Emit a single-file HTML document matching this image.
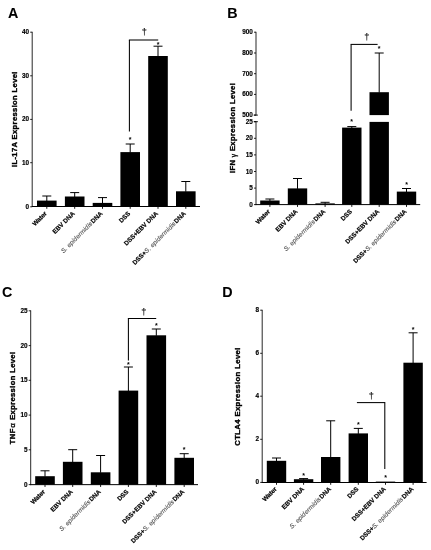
<!DOCTYPE html>
<html><head><meta charset="utf-8"><title>Figure</title>
<style>
html,body{margin:0;padding:0;background:#fff;}
svg{display:block;filter:blur(0.35px);}
text{font-family:'Liberation Sans', sans-serif;}
.it{font-style:italic;font-weight:normal;fill:#555;stroke:#555;stroke-width:0.12px;letter-spacing:0.08px;}
</style></head>
<body>
<svg width="431" height="550" viewBox="0 0 431 550">
<rect x="0" y="0" width="431" height="550" fill="#fff"/>
<g>
<line x1="32.20" y1="31.80" x2="32.20" y2="207.00" stroke="#000" stroke-width="0.85"/>
<text x="7.90" y="17.90" font-size="14.3" font-weight="bold" text-anchor="start" fill="#000" stroke="#000" stroke-width="0.05">A</text>
<line x1="30.20" y1="206.80" x2="32.20" y2="206.80" stroke="#000" stroke-width="0.85"/>
<text x="29.00" y="208.80" font-size="6.4" font-weight="bold" text-anchor="end" fill="#000" stroke="#000" stroke-width="0.15">0</text>
<line x1="30.20" y1="162.70" x2="32.20" y2="162.70" stroke="#000" stroke-width="0.85"/>
<text x="29.00" y="164.70" font-size="6.4" font-weight="bold" text-anchor="end" fill="#000" stroke="#000" stroke-width="0.15">10</text>
<line x1="30.20" y1="119.40" x2="32.20" y2="119.40" stroke="#000" stroke-width="0.85"/>
<text x="29.00" y="121.40" font-size="6.4" font-weight="bold" text-anchor="end" fill="#000" stroke="#000" stroke-width="0.15">20</text>
<line x1="30.20" y1="75.80" x2="32.20" y2="75.80" stroke="#000" stroke-width="0.85"/>
<text x="29.00" y="77.80" font-size="6.4" font-weight="bold" text-anchor="end" fill="#000" stroke="#000" stroke-width="0.15">30</text>
<line x1="30.20" y1="32.20" x2="32.20" y2="32.20" stroke="#000" stroke-width="0.85"/>
<text x="29.00" y="34.20" font-size="6.4" font-weight="bold" text-anchor="end" fill="#000" stroke="#000" stroke-width="0.15">40</text>
<line x1="31.80" y1="206.50" x2="200.00" y2="206.50" stroke="#000" stroke-width="1.0"/>
<rect x="37.00" y="200.60" width="19.60" height="5.90" fill="#000"/>
<line x1="46.80" y1="196.00" x2="46.80" y2="201.10" stroke="#000" stroke-width="1.0"/>
<line x1="42.30" y1="196.00" x2="51.30" y2="196.00" stroke="#000" stroke-width="1.0"/>
<line x1="46.80" y1="206.50" x2="46.80" y2="208.80" stroke="#000" stroke-width="0.9"/>
<text x="47.30" y="214.00" font-size="6.35" font-weight="bold" text-anchor="end" fill="#000" transform="rotate(-45 47.30 214.00)" stroke="#000" stroke-width="0.2">Water</text>
<rect x="64.90" y="196.50" width="19.60" height="10.00" fill="#000"/>
<line x1="74.70" y1="192.60" x2="74.70" y2="197.00" stroke="#000" stroke-width="1.0"/>
<line x1="70.20" y1="192.60" x2="79.20" y2="192.60" stroke="#000" stroke-width="1.0"/>
<line x1="74.70" y1="206.50" x2="74.70" y2="208.80" stroke="#000" stroke-width="0.9"/>
<text x="75.20" y="214.00" font-size="6.35" font-weight="bold" text-anchor="end" fill="#000" transform="rotate(-45 75.20 214.00)" stroke="#000" stroke-width="0.2">EBV DNA</text>
<rect x="92.70" y="202.90" width="19.60" height="3.60" fill="#000"/>
<line x1="102.50" y1="197.60" x2="102.50" y2="203.40" stroke="#000" stroke-width="1.0"/>
<line x1="98.00" y1="197.60" x2="107.00" y2="197.60" stroke="#000" stroke-width="1.0"/>
<line x1="102.50" y1="206.50" x2="102.50" y2="208.80" stroke="#000" stroke-width="0.9"/>
<text x="103.00" y="214.00" font-size="6.35" font-weight="bold" text-anchor="end" fill="#000" transform="rotate(-45 103.00 214.00)" stroke="#000" stroke-width="0.2"><tspan class="it">S. epidermidis</tspan><tspan dx="0.7">DNA</tspan></text>
<rect x="120.40" y="152.10" width="19.60" height="54.40" fill="#000"/>
<line x1="130.20" y1="144.00" x2="130.20" y2="152.60" stroke="#000" stroke-width="1.0"/>
<line x1="125.70" y1="144.00" x2="134.70" y2="144.00" stroke="#000" stroke-width="1.0"/>
<line x1="130.20" y1="206.50" x2="130.20" y2="208.80" stroke="#000" stroke-width="0.9"/>
<text x="130.70" y="214.00" font-size="6.35" font-weight="bold" text-anchor="end" fill="#000" transform="rotate(-45 130.70 214.00)" stroke="#000" stroke-width="0.2">DSS</text>
<rect x="148.20" y="56.00" width="19.60" height="150.50" fill="#000"/>
<line x1="158.00" y1="46.20" x2="158.00" y2="56.50" stroke="#000" stroke-width="1.0"/>
<line x1="153.50" y1="46.20" x2="162.50" y2="46.20" stroke="#000" stroke-width="1.0"/>
<line x1="158.00" y1="206.50" x2="158.00" y2="208.80" stroke="#000" stroke-width="0.9"/>
<text x="158.50" y="214.00" font-size="6.35" font-weight="bold" text-anchor="end" fill="#000" transform="rotate(-45 158.50 214.00)" stroke="#000" stroke-width="0.2">DSS+EBV DNA</text>
<rect x="176.00" y="191.30" width="19.60" height="15.20" fill="#000"/>
<line x1="185.80" y1="181.50" x2="185.80" y2="191.80" stroke="#000" stroke-width="1.0"/>
<line x1="181.30" y1="181.50" x2="190.30" y2="181.50" stroke="#000" stroke-width="1.0"/>
<line x1="185.80" y1="206.50" x2="185.80" y2="208.80" stroke="#000" stroke-width="0.9"/>
<text x="186.30" y="214.00" font-size="6.35" font-weight="bold" text-anchor="end" fill="#000" transform="rotate(-45 186.30 214.00)" stroke="#000" stroke-width="0.2">DSS+<tspan class="it">S. epidermidis</tspan><tspan dx="0.7">DNA</tspan></text>
<text x="17.20" y="119.10" font-size="7.6" font-weight="bold" text-anchor="middle" fill="#000" transform="rotate(-90 17.20 119.10)" letter-spacing="0.36" stroke="#000" stroke-width="0.35">IL-17A Expression Level</text>
<text x="130.00" y="141.70" font-size="7" font-weight="bold" text-anchor="middle" fill="#000">*</text>
<text x="158.00" y="47.20" font-size="7" font-weight="bold" text-anchor="middle" fill="#000">*</text>
<line x1="128.90" y1="40.00" x2="158.20" y2="40.00" stroke="#000" stroke-width="1.05"/>
<line x1="129.40" y1="40.00" x2="129.40" y2="131.60" stroke="#000" stroke-width="1.05"/>
<text x="144.40" y="35.40" font-size="9.2" font-weight="normal" text-anchor="middle" fill="#000" stroke="#000" stroke-width="0.1">†</text>
</g>
<g>
<line x1="256.00" y1="121.30" x2="256.00" y2="205.10" stroke="#000" stroke-width="0.85"/>
<line x1="256.00" y1="31.80" x2="256.00" y2="115.50" stroke="#000" stroke-width="0.85"/>
<text x="227.30" y="17.90" font-size="14.3" font-weight="bold" text-anchor="start" fill="#000" stroke="#000" stroke-width="0.05">B</text>
<line x1="254.00" y1="204.60" x2="256.00" y2="204.60" stroke="#000" stroke-width="0.85"/>
<text x="252.90" y="206.60" font-size="6.4" font-weight="bold" text-anchor="end" fill="#000" stroke="#000" stroke-width="0.15">0</text>
<line x1="254.00" y1="188.10" x2="256.00" y2="188.10" stroke="#000" stroke-width="0.85"/>
<text x="252.90" y="190.10" font-size="6.4" font-weight="bold" text-anchor="end" fill="#000" stroke="#000" stroke-width="0.15">5</text>
<line x1="254.00" y1="171.50" x2="256.00" y2="171.50" stroke="#000" stroke-width="0.85"/>
<text x="252.90" y="173.50" font-size="6.4" font-weight="bold" text-anchor="end" fill="#000" stroke="#000" stroke-width="0.15">10</text>
<line x1="254.00" y1="154.90" x2="256.00" y2="154.90" stroke="#000" stroke-width="0.85"/>
<text x="252.90" y="156.90" font-size="6.4" font-weight="bold" text-anchor="end" fill="#000" stroke="#000" stroke-width="0.15">15</text>
<line x1="254.00" y1="138.30" x2="256.00" y2="138.30" stroke="#000" stroke-width="0.85"/>
<text x="252.90" y="140.30" font-size="6.4" font-weight="bold" text-anchor="end" fill="#000" stroke="#000" stroke-width="0.15">20</text>
<line x1="254.00" y1="121.70" x2="256.00" y2="121.70" stroke="#000" stroke-width="0.85"/>
<text x="252.90" y="123.70" font-size="6.4" font-weight="bold" text-anchor="end" fill="#000" stroke="#000" stroke-width="0.15">25</text>
<line x1="254.00" y1="115.10" x2="256.00" y2="115.10" stroke="#000" stroke-width="0.85"/>
<text x="252.90" y="117.10" font-size="6.4" font-weight="bold" text-anchor="end" fill="#000" stroke="#000" stroke-width="0.15">500</text>
<line x1="254.00" y1="94.40" x2="256.00" y2="94.40" stroke="#000" stroke-width="0.85"/>
<text x="252.90" y="96.40" font-size="6.4" font-weight="bold" text-anchor="end" fill="#000" stroke="#000" stroke-width="0.15">600</text>
<line x1="254.00" y1="73.70" x2="256.00" y2="73.70" stroke="#000" stroke-width="0.85"/>
<text x="252.90" y="75.70" font-size="6.4" font-weight="bold" text-anchor="end" fill="#000" stroke="#000" stroke-width="0.15">700</text>
<line x1="254.00" y1="53.00" x2="256.00" y2="53.00" stroke="#000" stroke-width="0.85"/>
<text x="252.90" y="55.00" font-size="6.4" font-weight="bold" text-anchor="end" fill="#000" stroke="#000" stroke-width="0.15">800</text>
<line x1="254.00" y1="32.20" x2="256.00" y2="32.20" stroke="#000" stroke-width="0.85"/>
<text x="252.90" y="34.20" font-size="6.4" font-weight="bold" text-anchor="end" fill="#000" stroke="#000" stroke-width="0.15">900</text>
<line x1="255.60" y1="204.60" x2="420.20" y2="204.60" stroke="#000" stroke-width="1.0"/>
<rect x="260.20" y="200.50" width="19.40" height="4.10" fill="#000"/>
<line x1="269.90" y1="199.00" x2="269.90" y2="201.00" stroke="#000" stroke-width="1.0"/>
<line x1="265.40" y1="199.00" x2="274.40" y2="199.00" stroke="#000" stroke-width="1.0"/>
<line x1="269.90" y1="204.60" x2="269.90" y2="206.90" stroke="#000" stroke-width="0.9"/>
<text x="270.50" y="212.10" font-size="6.35" font-weight="bold" text-anchor="end" fill="#000" transform="rotate(-45 270.50 212.10)" stroke="#000" stroke-width="0.2">Water</text>
<rect x="287.80" y="188.40" width="19.40" height="16.20" fill="#000"/>
<line x1="297.50" y1="178.50" x2="297.50" y2="188.90" stroke="#000" stroke-width="1.0"/>
<line x1="293.00" y1="178.50" x2="302.00" y2="178.50" stroke="#000" stroke-width="1.0"/>
<line x1="297.50" y1="204.60" x2="297.50" y2="206.90" stroke="#000" stroke-width="0.9"/>
<text x="298.10" y="212.10" font-size="6.35" font-weight="bold" text-anchor="end" fill="#000" transform="rotate(-45 298.10 212.10)" stroke="#000" stroke-width="0.2">EBV DNA</text>
<rect x="315.40" y="203.40" width="19.40" height="1.20" fill="#000"/>
<line x1="325.10" y1="202.30" x2="325.10" y2="203.90" stroke="#000" stroke-width="1.0"/>
<line x1="320.60" y1="202.30" x2="329.60" y2="202.30" stroke="#000" stroke-width="1.0"/>
<line x1="325.10" y1="204.60" x2="325.10" y2="206.90" stroke="#000" stroke-width="0.9"/>
<text x="325.70" y="212.10" font-size="6.35" font-weight="bold" text-anchor="end" fill="#000" transform="rotate(-45 325.70 212.10)" stroke="#000" stroke-width="0.2"><tspan class="it">S. epidermidis</tspan><tspan dx="0.7">DNA</tspan></text>
<rect x="342.10" y="127.60" width="19.40" height="77.00" fill="#000"/>
<line x1="351.80" y1="126.60" x2="351.80" y2="128.10" stroke="#000" stroke-width="1.0"/>
<line x1="347.30" y1="126.60" x2="356.30" y2="126.60" stroke="#000" stroke-width="1.0"/>
<line x1="351.80" y1="204.60" x2="351.80" y2="206.90" stroke="#000" stroke-width="0.9"/>
<text x="352.40" y="212.10" font-size="6.35" font-weight="bold" text-anchor="end" fill="#000" transform="rotate(-45 352.40 212.10)" stroke="#000" stroke-width="0.2">DSS</text>
<rect x="369.50" y="121.90" width="19.40" height="82.70" fill="#000"/>
<line x1="379.20" y1="204.60" x2="379.20" y2="206.90" stroke="#000" stroke-width="0.9"/>
<text x="379.80" y="212.10" font-size="6.35" font-weight="bold" text-anchor="end" fill="#000" transform="rotate(-45 379.80 212.10)" stroke="#000" stroke-width="0.2">DSS+EBV DNA</text>
<rect x="396.80" y="191.60" width="19.40" height="13.00" fill="#000"/>
<line x1="406.50" y1="188.50" x2="406.50" y2="192.10" stroke="#000" stroke-width="1.0"/>
<line x1="402.00" y1="188.50" x2="411.00" y2="188.50" stroke="#000" stroke-width="1.0"/>
<line x1="406.50" y1="204.60" x2="406.50" y2="206.90" stroke="#000" stroke-width="0.9"/>
<text x="407.10" y="212.10" font-size="6.35" font-weight="bold" text-anchor="end" fill="#000" transform="rotate(-45 407.10 212.10)" stroke="#000" stroke-width="0.2">DSS+<tspan class="it">S. epidermidis</tspan><tspan dx="0.7">DNA</tspan></text>
<text x="235.10" y="127.90" font-size="7.6" font-weight="bold" text-anchor="middle" fill="#000" transform="rotate(-90 235.10 127.90)" letter-spacing="0.36" stroke="#000" stroke-width="0.35">IFN <tspan font-size="6.6" font-weight="normal" dy="0.8">γ</tspan><tspan dy="-0.8"> Expression Level</tspan></text>
<text x="351.70" y="124.30" font-size="7" font-weight="bold" text-anchor="middle" fill="#000">*</text>
<text x="379.20" y="51.40" font-size="7" font-weight="bold" text-anchor="middle" fill="#000">*</text>
<text x="406.50" y="187.00" font-size="7" font-weight="bold" text-anchor="middle" fill="#000">*</text>
<line x1="350.60" y1="44.40" x2="377.60" y2="44.40" stroke="#000" stroke-width="1.05"/>
<line x1="351.10" y1="44.40" x2="351.10" y2="110.80" stroke="#000" stroke-width="1.05"/>
<text x="366.70" y="39.70" font-size="9.2" font-weight="normal" text-anchor="middle" fill="#000" stroke="#000" stroke-width="0.1">†</text>
<line x1="253.70" y1="115.10" x2="257.90" y2="115.10" stroke="#000" stroke-width="0.9"/>
<line x1="253.70" y1="121.70" x2="257.90" y2="121.70" stroke="#000" stroke-width="0.9"/>
<rect x="369.50" y="92.20" width="19.40" height="22.90" fill="#000"/>
<line x1="379.20" y1="53.00" x2="379.20" y2="92.70" stroke="#000" stroke-width="1.0"/>
<line x1="374.70" y1="53.00" x2="383.70" y2="53.00" stroke="#000" stroke-width="1.0"/>
</g>
<g>
<line x1="30.70" y1="310.40" x2="30.70" y2="485.15" stroke="#000" stroke-width="0.85"/>
<text x="2.00" y="297.10" font-size="14.3" font-weight="bold" text-anchor="start" fill="#000" stroke="#000" stroke-width="0.05">C</text>
<line x1="28.70" y1="484.60" x2="30.70" y2="484.60" stroke="#000" stroke-width="0.85"/>
<text x="27.60" y="486.60" font-size="6.4" font-weight="bold" text-anchor="end" fill="#000" stroke="#000" stroke-width="0.15">0</text>
<line x1="28.70" y1="449.80" x2="30.70" y2="449.80" stroke="#000" stroke-width="0.85"/>
<text x="27.60" y="451.80" font-size="6.4" font-weight="bold" text-anchor="end" fill="#000" stroke="#000" stroke-width="0.15">5</text>
<line x1="28.70" y1="415.10" x2="30.70" y2="415.10" stroke="#000" stroke-width="0.85"/>
<text x="27.60" y="417.10" font-size="6.4" font-weight="bold" text-anchor="end" fill="#000" stroke="#000" stroke-width="0.15">10</text>
<line x1="28.70" y1="380.30" x2="30.70" y2="380.30" stroke="#000" stroke-width="0.85"/>
<text x="27.60" y="382.30" font-size="6.4" font-weight="bold" text-anchor="end" fill="#000" stroke="#000" stroke-width="0.15">15</text>
<line x1="28.70" y1="345.60" x2="30.70" y2="345.60" stroke="#000" stroke-width="0.85"/>
<text x="27.60" y="347.60" font-size="6.4" font-weight="bold" text-anchor="end" fill="#000" stroke="#000" stroke-width="0.15">20</text>
<line x1="28.70" y1="310.80" x2="30.70" y2="310.80" stroke="#000" stroke-width="0.85"/>
<text x="27.60" y="312.80" font-size="6.4" font-weight="bold" text-anchor="end" fill="#000" stroke="#000" stroke-width="0.15">25</text>
<line x1="30.30" y1="484.65" x2="198.00" y2="484.65" stroke="#000" stroke-width="1.0"/>
<rect x="35.20" y="476.20" width="19.60" height="8.45" fill="#000"/>
<line x1="45.00" y1="470.80" x2="45.00" y2="476.70" stroke="#000" stroke-width="1.0"/>
<line x1="40.50" y1="470.80" x2="49.50" y2="470.80" stroke="#000" stroke-width="1.0"/>
<line x1="45.00" y1="484.65" x2="45.00" y2="486.95" stroke="#000" stroke-width="0.9"/>
<text x="45.60" y="492.15" font-size="6.35" font-weight="bold" text-anchor="end" fill="#000" transform="rotate(-45 45.60 492.15)" stroke="#000" stroke-width="0.2">Water</text>
<rect x="62.90" y="461.80" width="19.60" height="22.85" fill="#000"/>
<line x1="72.70" y1="449.70" x2="72.70" y2="462.30" stroke="#000" stroke-width="1.0"/>
<line x1="68.20" y1="449.70" x2="77.20" y2="449.70" stroke="#000" stroke-width="1.0"/>
<line x1="72.70" y1="484.65" x2="72.70" y2="486.95" stroke="#000" stroke-width="0.9"/>
<text x="73.30" y="492.15" font-size="6.35" font-weight="bold" text-anchor="end" fill="#000" transform="rotate(-45 73.30 492.15)" stroke="#000" stroke-width="0.2">EBV DNA</text>
<rect x="90.80" y="472.30" width="19.60" height="12.35" fill="#000"/>
<line x1="100.60" y1="455.50" x2="100.60" y2="472.80" stroke="#000" stroke-width="1.0"/>
<line x1="96.10" y1="455.50" x2="105.10" y2="455.50" stroke="#000" stroke-width="1.0"/>
<line x1="100.60" y1="484.65" x2="100.60" y2="486.95" stroke="#000" stroke-width="0.9"/>
<text x="101.20" y="492.15" font-size="6.35" font-weight="bold" text-anchor="end" fill="#000" transform="rotate(-45 101.20 492.15)" stroke="#000" stroke-width="0.2"><tspan class="it">S. epidermidis</tspan><tspan dx="0.7">DNA</tspan></text>
<rect x="118.60" y="390.60" width="19.60" height="94.05" fill="#000"/>
<line x1="128.40" y1="367.00" x2="128.40" y2="391.10" stroke="#000" stroke-width="1.0"/>
<line x1="123.90" y1="367.00" x2="132.90" y2="367.00" stroke="#000" stroke-width="1.0"/>
<line x1="128.40" y1="484.65" x2="128.40" y2="486.95" stroke="#000" stroke-width="0.9"/>
<text x="129.00" y="492.15" font-size="6.35" font-weight="bold" text-anchor="end" fill="#000" transform="rotate(-45 129.00 492.15)" stroke="#000" stroke-width="0.2">DSS</text>
<rect x="146.50" y="335.30" width="19.60" height="149.35" fill="#000"/>
<line x1="156.30" y1="329.00" x2="156.30" y2="335.80" stroke="#000" stroke-width="1.0"/>
<line x1="151.80" y1="329.00" x2="160.80" y2="329.00" stroke="#000" stroke-width="1.0"/>
<line x1="156.30" y1="484.65" x2="156.30" y2="486.95" stroke="#000" stroke-width="0.9"/>
<text x="156.90" y="492.15" font-size="6.35" font-weight="bold" text-anchor="end" fill="#000" transform="rotate(-45 156.90 492.15)" stroke="#000" stroke-width="0.2">DSS+EBV DNA</text>
<rect x="174.40" y="457.80" width="19.60" height="26.85" fill="#000"/>
<line x1="184.20" y1="453.70" x2="184.20" y2="458.30" stroke="#000" stroke-width="1.0"/>
<line x1="179.70" y1="453.70" x2="188.70" y2="453.70" stroke="#000" stroke-width="1.0"/>
<line x1="184.20" y1="484.65" x2="184.20" y2="486.95" stroke="#000" stroke-width="0.9"/>
<text x="184.80" y="492.15" font-size="6.35" font-weight="bold" text-anchor="end" fill="#000" transform="rotate(-45 184.80 492.15)" stroke="#000" stroke-width="0.2">DSS+<tspan class="it">S. epidermidis</tspan><tspan dx="0.7">DNA</tspan></text>
<text x="15.30" y="397.90" font-size="7.6" font-weight="bold" text-anchor="middle" fill="#000" transform="rotate(-90 15.30 397.90)" letter-spacing="0.36" stroke="#000" stroke-width="0.35">TNF<tspan font-size="7.8" font-weight="normal" dx="0.6">α</tspan><tspan dx="0.5"> Expression Level</tspan></text>
<text x="128.30" y="367.10" font-size="7" font-weight="bold" text-anchor="middle" fill="#000">*</text>
<text x="156.30" y="328.20" font-size="7" font-weight="bold" text-anchor="middle" fill="#000">*</text>
<text x="184.20" y="451.90" font-size="7" font-weight="bold" text-anchor="middle" fill="#000">*</text>
<line x1="127.90" y1="318.50" x2="156.20" y2="318.50" stroke="#000" stroke-width="1.05"/>
<line x1="128.40" y1="318.50" x2="128.40" y2="360.40" stroke="#000" stroke-width="1.05"/>
<text x="143.90" y="314.70" font-size="9.2" font-weight="normal" text-anchor="middle" fill="#000" stroke="#000" stroke-width="0.1">†</text>
</g>
<g>
<line x1="262.20" y1="309.80" x2="262.20" y2="483.00" stroke="#000" stroke-width="0.85"/>
<text x="222.30" y="297.10" font-size="14.3" font-weight="bold" text-anchor="start" fill="#000" stroke="#000" stroke-width="0.05">D</text>
<line x1="260.20" y1="482.40" x2="262.20" y2="482.40" stroke="#000" stroke-width="0.85"/>
<text x="259.00" y="484.40" font-size="6.4" font-weight="bold" text-anchor="end" fill="#000" stroke="#000" stroke-width="0.15">0</text>
<line x1="260.20" y1="439.30" x2="262.20" y2="439.30" stroke="#000" stroke-width="0.85"/>
<text x="259.00" y="441.30" font-size="6.4" font-weight="bold" text-anchor="end" fill="#000" stroke="#000" stroke-width="0.15">2</text>
<line x1="260.20" y1="396.20" x2="262.20" y2="396.20" stroke="#000" stroke-width="0.85"/>
<text x="259.00" y="398.20" font-size="6.4" font-weight="bold" text-anchor="end" fill="#000" stroke="#000" stroke-width="0.15">4</text>
<line x1="260.20" y1="353.30" x2="262.20" y2="353.30" stroke="#000" stroke-width="0.85"/>
<text x="259.00" y="355.30" font-size="6.4" font-weight="bold" text-anchor="end" fill="#000" stroke="#000" stroke-width="0.15">6</text>
<line x1="260.20" y1="310.20" x2="262.20" y2="310.20" stroke="#000" stroke-width="0.85"/>
<text x="259.00" y="312.20" font-size="6.4" font-weight="bold" text-anchor="end" fill="#000" stroke="#000" stroke-width="0.15">8</text>
<line x1="261.80" y1="482.50" x2="426.60" y2="482.50" stroke="#000" stroke-width="1.0"/>
<rect x="266.80" y="460.80" width="19.40" height="21.70" fill="#000"/>
<line x1="276.50" y1="458.00" x2="276.50" y2="461.30" stroke="#000" stroke-width="1.0"/>
<line x1="272.00" y1="458.00" x2="281.00" y2="458.00" stroke="#000" stroke-width="1.0"/>
<line x1="276.50" y1="482.50" x2="276.50" y2="484.80" stroke="#000" stroke-width="0.9"/>
<text x="277.30" y="489.50" font-size="6.35" font-weight="bold" text-anchor="end" fill="#000" transform="rotate(-45 277.30 489.50)" stroke="#000" stroke-width="0.2">Water</text>
<rect x="293.90" y="479.20" width="19.40" height="3.30" fill="#000"/>
<line x1="303.60" y1="478.60" x2="303.60" y2="479.70" stroke="#000" stroke-width="1.0"/>
<line x1="299.10" y1="478.60" x2="308.10" y2="478.60" stroke="#000" stroke-width="1.0"/>
<line x1="303.60" y1="482.50" x2="303.60" y2="484.80" stroke="#000" stroke-width="0.9"/>
<text x="304.40" y="489.50" font-size="6.35" font-weight="bold" text-anchor="end" fill="#000" transform="rotate(-45 304.40 489.50)" stroke="#000" stroke-width="0.2">EBV DNA</text>
<rect x="321.00" y="457.00" width="19.40" height="25.50" fill="#000"/>
<line x1="330.70" y1="420.80" x2="330.70" y2="457.50" stroke="#000" stroke-width="1.0"/>
<line x1="326.20" y1="420.80" x2="335.20" y2="420.80" stroke="#000" stroke-width="1.0"/>
<line x1="330.70" y1="482.50" x2="330.70" y2="484.80" stroke="#000" stroke-width="0.9"/>
<text x="331.50" y="489.50" font-size="6.35" font-weight="bold" text-anchor="end" fill="#000" transform="rotate(-45 331.50 489.50)" stroke="#000" stroke-width="0.2"><tspan class="it">S. epidermidis</tspan><tspan dx="0.7">DNA</tspan></text>
<rect x="348.60" y="433.40" width="19.40" height="49.10" fill="#000"/>
<line x1="358.30" y1="428.40" x2="358.30" y2="433.90" stroke="#000" stroke-width="1.0"/>
<line x1="353.80" y1="428.40" x2="362.80" y2="428.40" stroke="#000" stroke-width="1.0"/>
<line x1="358.30" y1="482.50" x2="358.30" y2="484.80" stroke="#000" stroke-width="0.9"/>
<text x="359.10" y="489.50" font-size="6.35" font-weight="bold" text-anchor="end" fill="#000" transform="rotate(-45 359.10 489.50)" stroke="#000" stroke-width="0.2">DSS</text>
<rect x="375.80" y="481.60" width="19.40" height="0.90" fill="#000"/>
<line x1="385.50" y1="482.50" x2="385.50" y2="484.80" stroke="#000" stroke-width="0.9"/>
<text x="386.30" y="489.50" font-size="6.35" font-weight="bold" text-anchor="end" fill="#000" transform="rotate(-45 386.30 489.50)" stroke="#000" stroke-width="0.2">DSS+EBV DNA</text>
<rect x="403.40" y="362.70" width="19.40" height="119.80" fill="#000"/>
<line x1="413.10" y1="332.80" x2="413.10" y2="363.20" stroke="#000" stroke-width="1.0"/>
<line x1="408.60" y1="332.80" x2="417.60" y2="332.80" stroke="#000" stroke-width="1.0"/>
<line x1="413.10" y1="482.50" x2="413.10" y2="484.80" stroke="#000" stroke-width="0.9"/>
<text x="413.90" y="489.50" font-size="6.35" font-weight="bold" text-anchor="end" fill="#000" transform="rotate(-45 413.90 489.50)" stroke="#000" stroke-width="0.2">DSS+<tspan class="it">S. epidermidis</tspan><tspan dx="0.7">DNA</tspan></text>
<text x="240.40" y="396.50" font-size="7.72" font-weight="bold" text-anchor="middle" fill="#000" transform="rotate(-90 240.40 396.50)" letter-spacing="0.36" stroke="#000" stroke-width="0.35">CTLA4 Expression Level</text>
<text x="303.60" y="478.00" font-size="7" font-weight="bold" text-anchor="middle" fill="#000">*</text>
<text x="358.30" y="426.70" font-size="7" font-weight="bold" text-anchor="middle" fill="#000">*</text>
<text x="385.50" y="480.10" font-size="7" font-weight="bold" text-anchor="middle" fill="#000">*</text>
<text x="413.10" y="331.70" font-size="7" font-weight="bold" text-anchor="middle" fill="#000">*</text>
<line x1="356.90" y1="402.60" x2="385.20" y2="402.60" stroke="#000" stroke-width="1.05"/>
<line x1="384.80" y1="402.60" x2="384.80" y2="469.00" stroke="#000" stroke-width="1.05"/>
<text x="371.40" y="399.10" font-size="9.2" font-weight="normal" text-anchor="middle" fill="#000" stroke="#000" stroke-width="0.1">†</text>
</g>
</svg>
</body></html>
